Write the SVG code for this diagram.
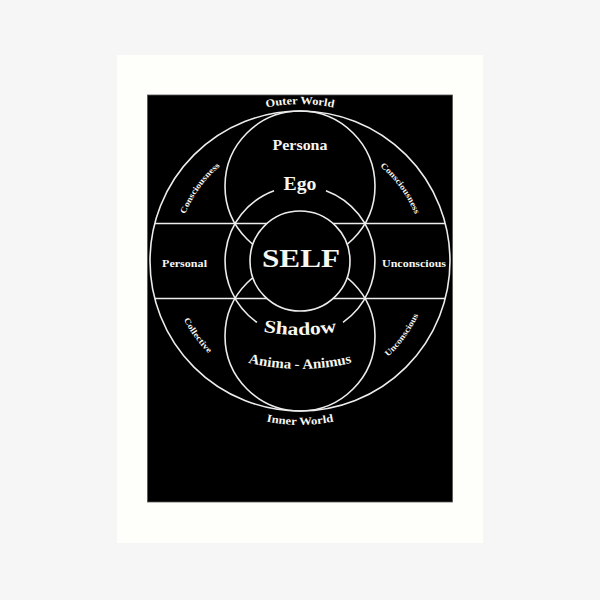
<svg xmlns="http://www.w3.org/2000/svg" xmlns:xlink="http://www.w3.org/1999/xlink" width="600" height="600" viewBox="0 0 600 600">
  <style>
    .ln { fill: none; stroke: #ececec; stroke-width: 1.6; }
    .t { fill: #f6f6f2; font-family: "Liberation Serif", "DejaVu Serif", serif; font-weight: bold; }
    .sm { font-size: 8.5px; }
    .md { font-size: 11px; }
  </style>
  <defs>
    <path id="pOuter" d="M 143 261 A 157 157 0 0 1 457 261"/>
    <path id="pInner" d="M 136 261 A 164 164 0 0 0 464 261"/>
    <path id="pTopL" d="M 176 261 A 124 124 0 0 1 300 137"/>
    <path id="pTopR" d="M 300 137 A 124 124 0 0 1 424 261"/>
    <path id="pBot" d="M 170 261 A 130 130 0 0 0 430 261"/>
    <path id="pShadow" d="M 100 135 A 200 200 0 0 0 500 135"/>
    <path id="pAnima" d="M 80 149 A 220 220 0 0 0 520 149"/>
  </defs>
  <rect x="0" y="0" width="600" height="600" fill="#f6f6f7"/>
  <rect x="117" y="55" width="366" height="488" fill="#fefefa"/>
  <rect x="147.5" y="95" width="305" height="407" fill="#000" stroke="#555" stroke-width="0.8"/>

  <g id="outer-circle">
    <circle class="ln" cx="300" cy="261" r="150"/>
  </g>
  <g id="connectors">
    <line class="ln" x1="154.8" y1="223.5" x2="445.2" y2="223.5"/>
    <line class="ln" x1="154.8" y1="298.5" x2="445.2" y2="298.5"/>
  </g>
  <g id="persona">
    <circle class="ln" cx="300" cy="186" r="75"/>
    <text class="t" x="300" y="150" font-size="15" text-anchor="middle" textLength="55" lengthAdjust="spacingAndGlyphs">Persona</text>
  </g>
  <g id="shadow-circle">
    <circle class="ln" cx="300" cy="336" r="75"/>
  </g>
  <g id="ego">
    <path class="ln" d="M 326 190.7 A 75 75 0 0 1 343 322.4"/>
    <path class="ln" d="M 257 322.4 A 75 75 0 0 1 274 190.7"/>
    <text class="t" x="300" y="190" font-size="19" text-anchor="middle" textLength="33" lengthAdjust="spacingAndGlyphs">Ego</text>
  </g>
  <g id="self">
    <circle cx="300" cy="261" r="50" fill="#000" stroke="#ececec" stroke-width="1.6"/>
    <text class="t" x="301" y="267" font-size="25" text-anchor="middle" textLength="78" lengthAdjust="spacingAndGlyphs">SELF</text>
  </g>
  <g id="shadow">
    <text class="t" font-size="18"><textPath xlink:href="#pShadow" href="#pShadow" startOffset="50%" text-anchor="middle" textLength="74" lengthAdjust="spacingAndGlyphs">Shadow</textPath></text>
  </g>
  <g id="anima">
    <text class="t" font-size="14"><textPath xlink:href="#pAnima" href="#pAnima" startOffset="50%" text-anchor="middle" textLength="105" lengthAdjust="spacingAndGlyphs">Anima - Animus</textPath></text>
  </g>
  <g id="outer-world">
    <text class="t md"><textPath xlink:href="#pOuter" href="#pOuter" startOffset="50%" text-anchor="middle" textLength="68" lengthAdjust="spacingAndGlyphs">Outer World</textPath></text>
  </g>
  <g id="inner-world">
    <text class="t md"><textPath xlink:href="#pInner" href="#pInner" startOffset="50%" text-anchor="middle" textLength="68" lengthAdjust="spacingAndGlyphs">Inner World</textPath></text>
  </g>
  <g id="personal">
    <text class="t" x="184.5" y="267" font-size="10" text-anchor="middle" textLength="45" lengthAdjust="spacingAndGlyphs">Personal</text>
  </g>
  <g id="unconscious-mid">
    <text class="t" x="414" y="267" font-size="10" text-anchor="middle" textLength="64" lengthAdjust="spacingAndGlyphs">Unconscious</text>
  </g>
  <g id="consciousness-left">
    <text class="t sm"><textPath xlink:href="#pTopL" href="#pTopL" startOffset="40%" text-anchor="middle" textLength="60" lengthAdjust="spacingAndGlyphs">Consciousness</textPath></text>
  </g>
  <g id="consciousness-right">
    <text class="t sm"><textPath xlink:href="#pTopR" href="#pTopR" startOffset="60%" text-anchor="middle" textLength="60" lengthAdjust="spacingAndGlyphs">Consciousness</textPath></text>
  </g>
  <g id="collective">
    <text class="t sm"><textPath xlink:href="#pBot" href="#pBot" startOffset="20%" text-anchor="middle" textLength="42" lengthAdjust="spacingAndGlyphs">Collective</textPath></text>
  </g>
  <g id="unconscious-low">
    <text class="t sm"><textPath xlink:href="#pBot" href="#pBot" startOffset="80%" text-anchor="middle" textLength="52" lengthAdjust="spacingAndGlyphs">Unconscious</textPath></text>
  </g>
</svg>
